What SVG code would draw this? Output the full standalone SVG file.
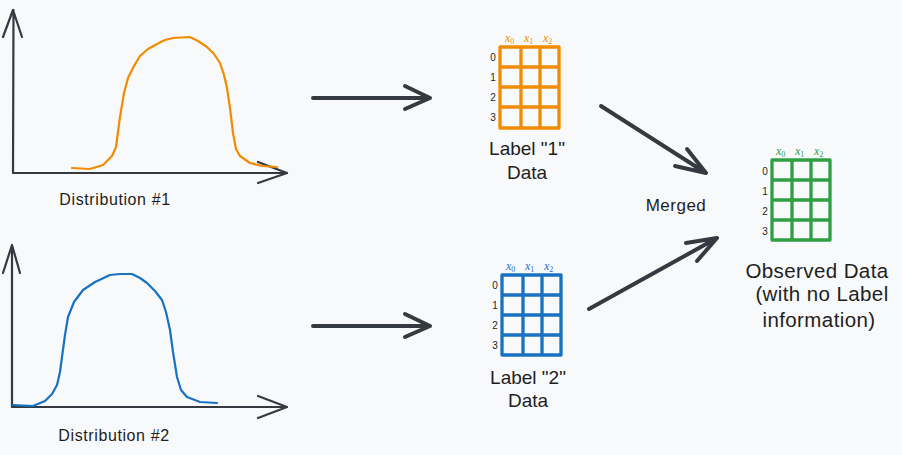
<svg xmlns="http://www.w3.org/2000/svg" width="902" height="455" viewBox="0 0 902 455">
<style>
.bg{fill:#f8f9fa}
.axis{fill:none;stroke:#343a40;stroke-width:2.2;stroke-linecap:round;stroke-linejoin:round}
.arr{fill:none;stroke:#343a40;stroke-width:4;stroke-linecap:round;stroke-linejoin:round}
.curve{fill:none;stroke-width:2.2;stroke-linecap:round;stroke-linejoin:round}
.grid{fill:none;stroke-width:3.3;stroke-linecap:round;stroke-linejoin:round}
.t{font-family:"Liberation Sans",Arial,sans-serif;fill:#1e1e1e}
.lbl{font-size:16px;letter-spacing:0.6px}
.big{font-size:19px}
.obs{font-size:20.5px;letter-spacing:0.4px}
.row{font-size:10px}
.col{font-family:"Liberation Serif","Times New Roman",serif;font-style:italic;font-size:12px}
.sub{font-size:8px;font-style:normal}
.o{stroke:#f08c00}.b{stroke:#1971c2}.g{stroke:#2f9e44}
</style>
<rect class="bg" x="0" y="0" width="902" height="455"/>

<g id="chart1">
<path class="axis" d="M13,173 L13.5,10 M3,37 L13,10 L22,37 M13,173 L287,173 M258,162 L287,173 L258,183"/>
<polyline class="curve o" points="72,168 90,169 103,165 112,156 116,147 120,117 124,93 128,78 134,66 140,56 148,49 157,44 165,40 173,38 190,37 198,41 207,47 214,54 220,63 224,75 227,88 230,108 233,133 236,149 240,156 250,163 262,166 277,167"/>
<text class="t lbl" x="115" y="205" text-anchor="middle">Distribution #1</text>
</g>

<g id="chart2">
<path class="axis" d="M12,407 L12,245 M3,273 L12,245 L20,273 M12,407 L287,407 M258,396 L287,407 L258,418"/>
<polyline class="curve b" points="13,405 33,406 45,401 52,394 57,385 60,372 62,357 65,335 68,317 74,302 83,290 95,282 110,275 120,274 132,274 140,278 147,283 155,291 162,300 166,312 170,330 173,352 177,377 181,390 187,397 200,402 217,403"/>
<text class="t lbl" x="114" y="441" text-anchor="middle">Distribution #2</text>
</g>

<g id="grid1">
<path class="grid o" d="M500,47 L559,47 L559,128 L500,128 Z M521,47 L521,128 M540,47 L540,128 M500,67 L559,67 M500,87 L559,87 M500,107 L559,107"/>
<text class="col" fill="#f08c00" x="505" y="42">x<tspan class="sub" dy="2">0</tspan></text>
<text class="col" fill="#f08c00" x="524" y="42">x<tspan class="sub" dy="2">1</tspan></text>
<text class="col" fill="#f08c00" x="543" y="42">x<tspan class="sub" dy="2">2</tspan></text>
<text class="t row" x="493" y="61" text-anchor="middle">0</text>
<text class="t row" x="493" y="81" text-anchor="middle">1</text>
<text class="t row" x="493" y="101" text-anchor="middle">2</text>
<text class="t row" x="493" y="121" text-anchor="middle">3</text>
<text class="t big" x="527" y="155" text-anchor="middle">Label "1"</text>
<text class="t big" x="527" y="179" text-anchor="middle">Data</text>
</g>

<g id="grid2">
<path class="grid b" d="M502,275 L561,275 L561,355 L502,355 Z M523,275 L523,355 M542,275 L542,355 M502,295 L561,295 M502,315 L561,315 M502,335 L561,335"/>
<text class="col" fill="#1971c2" x="506" y="270">x<tspan class="sub" dy="2">0</tspan></text>
<text class="col" fill="#1971c2" x="525" y="270">x<tspan class="sub" dy="2">1</tspan></text>
<text class="col" fill="#1971c2" x="544" y="270">x<tspan class="sub" dy="2">2</tspan></text>
<text class="t row" x="495" y="289" text-anchor="middle">0</text>
<text class="t row" x="495" y="309" text-anchor="middle">1</text>
<text class="t row" x="495" y="329" text-anchor="middle">2</text>
<text class="t row" x="495" y="349" text-anchor="middle">3</text>
<text class="t big" x="528" y="384" text-anchor="middle">Label "2"</text>
<text class="t big" x="528" y="407" text-anchor="middle">Data</text>
</g>

<g id="grid3">
<path class="grid g" d="M772,160 L830,160 L830,240 L772,240 Z M792,160 L792,240 M811,160 L811,240 M772,180 L830,180 M772,200 L830,200 M772,220 L830,220"/>
<text class="col" fill="#2f9e44" x="776" y="155">x<tspan class="sub" dy="2">0</tspan></text>
<text class="col" fill="#2f9e44" x="795" y="155">x<tspan class="sub" dy="2">1</tspan></text>
<text class="col" fill="#2f9e44" x="814" y="155">x<tspan class="sub" dy="2">2</tspan></text>
<text class="t row" x="765" y="175" text-anchor="middle">0</text>
<text class="t row" x="765" y="195" text-anchor="middle">1</text>
<text class="t row" x="765" y="215" text-anchor="middle">2</text>
<text class="t row" x="765" y="235" text-anchor="middle">3</text>
<text class="t obs" x="817" y="278" text-anchor="middle">Observed Data</text>
<text class="t obs" x="822" y="301" text-anchor="middle">(with no Label</text>
<text class="t obs" x="819" y="327" text-anchor="middle">information)</text>
</g>

<g id="connectors">
<path class="arr" d="M313,98 L430,98 M405,86 L430,98 L405,109"/>
<path class="arr" d="M313,326 L430,326 M405,314 L430,326 L405,337"/>
<path class="arr" d="M601,106 L706,173 M687,149 L706,173 L675,166"/>
<path class="arr" d="M589,309 L717,238 M686,243 L717,238 L697,261"/>
<text class="t" style="font-size:17px;letter-spacing:0.5px" x="676" y="211" text-anchor="middle">Merged</text>
</g>
</svg>
